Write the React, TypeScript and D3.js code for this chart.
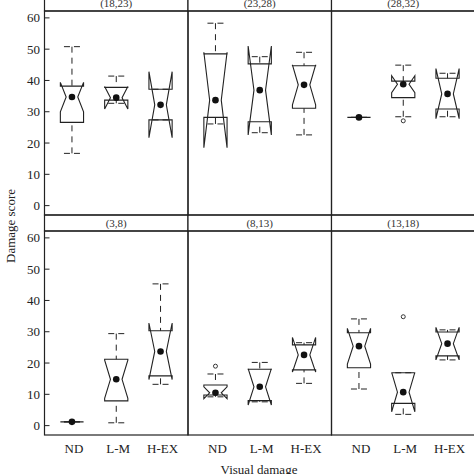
import React from "react";
import * as d3 from "d3";

const categories = ["ND", "L-M", "H-EX"];
const stripLabels = ["(3,8)", "(8,13)", "(13,18)", "(18,23)", "(23,28)", "(28,32)"];
const yTicks = [0, 10, 20, 30, 40, 50, 60];

// per panel (strip order), per category
const lowerWhisker = [
  [1.2, 0.9, 13.2],
  [9.2, 7.6, 13.5],
  [11.7, 3.6, 21.0],
  [16.7, 32.7, 27.4],
  [26.1, 23.3, 22.6],
  [28.2, 28.4, 28.4],
];
const lowerHinge = [
  [1.2, 7.9, 15.9],
  [9.8, 8.0, 17.8],
  [18.5, 7.1, 22.3],
  [26.6, 33.7, 27.4],
  [28.2, 26.8, 31.1],
  [28.2, 34.5, 30.9],
];
const medians = [
  [1.2, 14.8, 23.7],
  [10.5, 12.4, 22.6],
  [25.4, 10.7, 26.2],
  [34.7, 34.5, 32.2],
  [33.7, 36.9, 38.6],
  [28.2, 38.8, 35.7],
];
const upperHinge = [
  [1.2, 21.2, 30.3],
  [13.0, 18.0, 25.8],
  [29.7, 16.9, 29.9],
  [38.2, 37.8, 37.2],
  [48.5, 45.3, 44.7],
  [28.2, 39.8, 40.7],
];
const upperWhisker = [
  [1.2, 29.4, 45.3],
  [16.5, 20.2, 26.5],
  [34.1, 16.9, 30.6],
  [50.8, 41.4, 37.2],
  [58.3, 47.6, 49.0],
  [28.2, 44.9, 42.3],
];
const notchLower = [
  [1.2, 8.7, 14.7],
  [8.6, 6.6, 17.1],
  [19.7, 4.4, 21.0],
  [30.0, 30.9, 21.7],
  [18.5, 22.6, 32.2],
  [28.2, 36.1, 27.8],
];
const notchUpper = [
  [1.2, 20.9, 32.8],
  [12.4, 18.2, 28.2],
  [31.1, 17.0, 31.4],
  [39.4, 38.1, 42.8],
  [49.0, 51.0, 45.0],
  [28.2, 41.5, 43.8],
];
const outliers: number[][][] = [
  [[], [], []],
  [[19.0], [], []],
  [[], [34.8], []],
  [[], [], []],
  [[], [], []],
  [[], [27.1], []],
];

const W = 474;
const H = 474;
const colX = [44.5, 188, 331.5];
const panelW = 143.5;
const rowTop = { top: 11, bottom: 231 };
const panelH = 204;
const stripH = 16;
const font = "'Liberation Serif', 'Times New Roman', serif";
const ink = "#222";

export default function App() {
  const boxHalf = 11.6;
  const notchHalf = boxHalf * 0.5;
  const capHalf = 8;

  const panels = stripLabels.map((label, p) => {
    const isTop = p >= 3;
    const col = p % 3;
    const x0 = colX[col];
    const y0 = isTop ? rowTop.top : rowTop.bottom;
    const x = d3.scaleLinear().domain([0.38, 3.62]).range([x0, x0 + panelW]);
    const y = d3.scaleLinear().domain([-3, 62.2]).range([y0 + panelH, y0]);
    const line = d3.line<[number, number]>();

    const boxes = categories.map((c, i) => {
      const cx = x(i + 1);
      const q1 = y(lowerHinge[p][i]);
      const q3 = y(upperHinge[p][i]);
      const md = y(medians[p][i]);
      const nl = y(notchLower[p][i]);
      const nu = y(notchUpper[p][i]);
      const wl = y(lowerWhisker[p][i]);
      const wu = y(upperWhisker[p][i]);
      const pts: [number, number][] = [
        [cx - boxHalf, q1],
        [cx - boxHalf, nl],
        [cx - notchHalf, md],
        [cx - boxHalf, nu],
        [cx - boxHalf, q3],
        [cx + boxHalf, q3],
        [cx + boxHalf, nu],
        [cx + notchHalf, md],
        [cx + boxHalf, nl],
        [cx + boxHalf, q1],
      ];
      return (
        <g key={c}>
          {wu !== q3 && (
            <line x1={cx} x2={cx} y1={wu} y2={q3} stroke={ink} strokeWidth={1} strokeDasharray="6,5" />
          )}
          {wl !== q1 && (
            <line x1={cx} x2={cx} y1={wl} y2={q1} stroke={ink} strokeWidth={1} strokeDasharray="6,5" />
          )}
          <line x1={cx - capHalf} x2={cx + capHalf} y1={wu} y2={wu} stroke={ink} strokeWidth={1} strokeDasharray="6,4" />
          <line x1={cx - capHalf} x2={cx + capHalf} y1={wl} y2={wl} stroke={ink} strokeWidth={1} strokeDasharray="6,4" />
          <path d={line(pts) + "Z"} fill="none" stroke={ink} strokeWidth={1.1} strokeLinejoin="miter" />
          <circle cx={cx} cy={md} r={3.3} fill="#111" />
          {outliers[p][i].map((v, k) => (
            <circle key={k} cx={cx} cy={y(v)} r={2} fill="none" stroke={ink} strokeWidth={0.9} />
          ))}
        </g>
      );
    });

    return (
      <g key={label}>
        <rect x={x0} y={y0 - stripH} width={panelW} height={stripH} fill="#fff" stroke={ink} strokeWidth={1.2} />
        <text x={x0 + panelW / 2} y={y0 - stripH / 2} textAnchor="middle" dominantBaseline="central" fontFamily={font} fontSize={11} fill="#333">
          {label}
        </text>
        <rect x={x0} y={y0} width={panelW} height={panelH} fill="none" stroke={ink} strokeWidth={1.2} />
        {boxes}
        {col === 0 &&
          yTicks.map((t) => (
            <g key={t}>
              <line x1={x0} x2={x0 + 5} y1={y(t)} y2={y(t)} stroke={ink} strokeWidth={1} />
              <text x={40} y={y(t)} textAnchor="end" dominantBaseline="central" fontFamily={font} fontSize={13} fill={ink}>
                {t}
              </text>
            </g>
          ))}
        {!isTop &&
          categories.map((c, i) => (
            <text key={c} x={x(i + 1) + 2} y={448} textAnchor="middle" dominantBaseline="central" fontFamily={font} fontSize={13} fill={ink}>
              {c}
            </text>
          ))}
      </g>
    );
  });

  return (
    <svg width={W} height={H} style={{ position: "absolute", left: 0, top: 0, background: "#fff" }}>
      <rect width={W} height={H} fill="#fff" />
      {panels}
      <text transform="translate(15,226) rotate(-90)" textAnchor="middle" fontFamily={font} fontSize={13} fill={ink}>
        Damage score
      </text>
      <text x={259} y={474} textAnchor="middle" fontFamily={font} fontSize={13} fill={ink}>
        Visual damage
      </text>
    </svg>
  );
}
